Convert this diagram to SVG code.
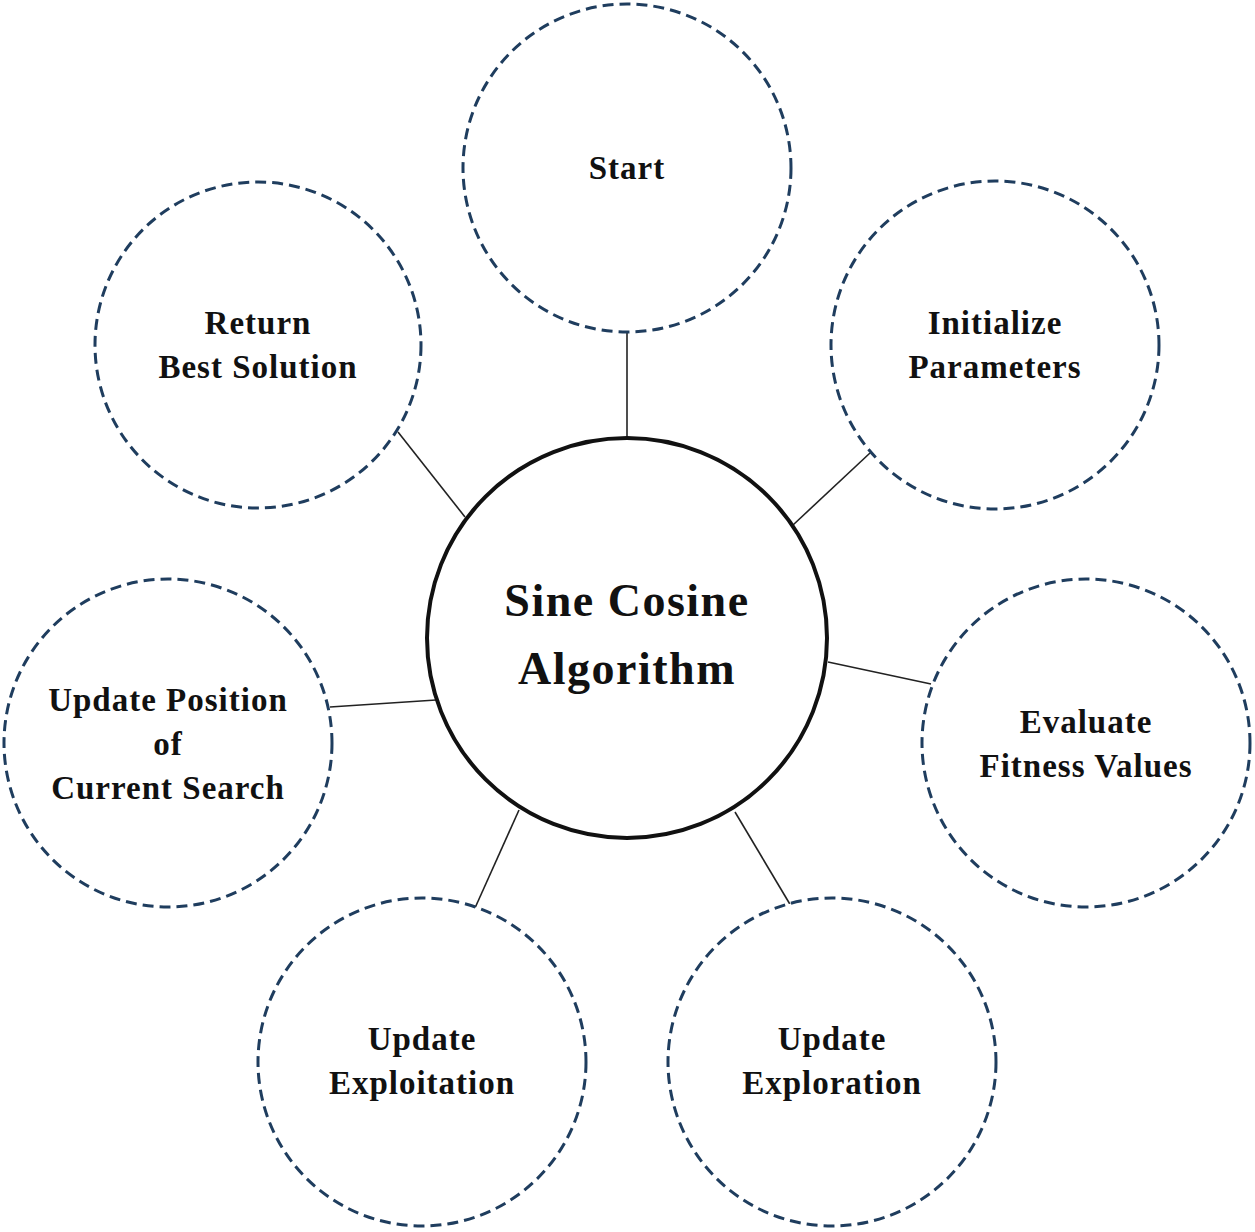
<svg xmlns="http://www.w3.org/2000/svg" width="1255" height="1232" viewBox="0 0 1255 1232">
<style>
.n{fill:#fff;stroke:#1f3d5e;stroke-width:3;stroke-dasharray:11 6}
.t{font-family:"Liberation Serif",serif;font-weight:bold;font-size:33px;letter-spacing:1px;fill:#111;text-anchor:middle}
.big{font-size:46px;letter-spacing:1.5px}
.c line{stroke:#222;stroke-width:1.6}
</style>
<rect width="1255" height="1232" fill="#fff"/>
<g class="c" id="connectors">
<line x1="627" y1="332" x2="627" y2="438"/>
<line x1="870" y1="453" x2="793" y2="525"/>
<line x1="398" y1="432" x2="465" y2="517"/>
<line x1="828" y1="662" x2="931" y2="684"/>
<line x1="330" y1="707" x2="436" y2="700"/>
<line x1="475" y1="908" x2="519" y2="810"/>
<line x1="735" y1="812" x2="791" y2="906"/>
</g>
<g id="center"><circle cx="627" cy="638" r="200" fill="#fff" stroke="#111" stroke-width="4"/>
<text class="t big" x="627" y="616">Sine Cosine</text><text class="t big" x="627" y="684">Algorithm</text></g>
<g id="start"><circle class="n" cx="627" cy="168" r="164"/><text class="t" x="627" y="179">Start</text></g>
<g id="init"><circle class="n" cx="995" cy="345" r="164"/><text class="t" x="995" y="334">Initialize</text><text class="t" x="995" y="378">Parameters</text></g>
<g id="ret"><circle class="n" cx="258" cy="345" r="163"/><text class="t" x="258" y="334">Return</text><text class="t" x="258" y="378">Best Solution</text></g>
<g id="eval"><circle class="n" cx="1086" cy="743" r="164"/><text class="t" x="1086" y="733">Evaluate</text><text class="t" x="1086" y="777">Fitness Values</text></g>
<g id="upos"><circle class="n" cx="168" cy="743" r="164"/><text class="t" x="168" y="711">Update Position</text><text class="t" x="168" y="755">of</text><text class="t" x="168" y="799">Current Search</text></g>
<g id="uexploit"><circle class="n" cx="422" cy="1062" r="164"/><text class="t" x="422" y="1050">Update</text><text class="t" x="422" y="1094">Exploitation</text></g>
<g id="uexplore"><circle class="n" cx="832" cy="1062" r="164"/><text class="t" x="832" y="1050">Update</text><text class="t" x="832" y="1094">Exploration</text></g>
</svg>
